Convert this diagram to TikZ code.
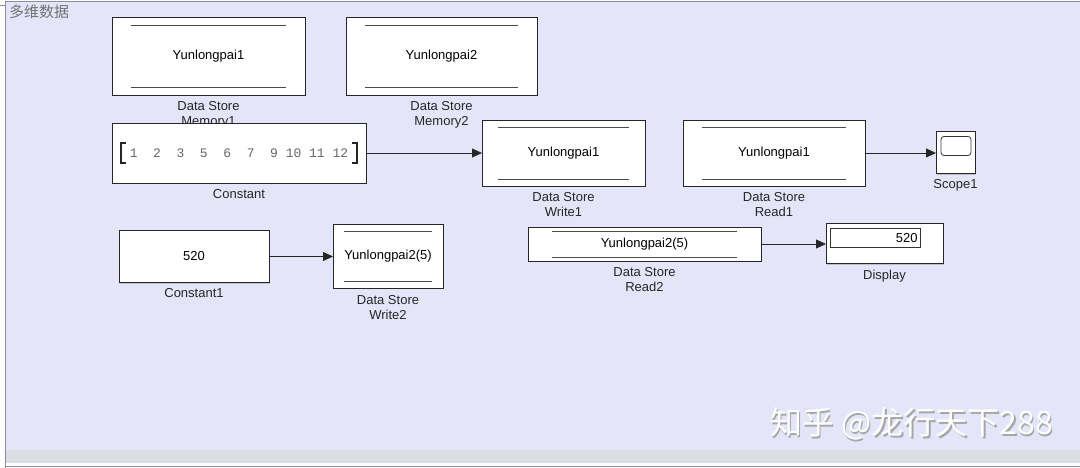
\documentclass[tikz,border=0pt]{standalone}
\usepackage{fontspec}
\setmainfont{Liberation Sans}
\newfontfamily\cjkfont{Noto Sans CJK SC}
\newfontfamily\vecfont{Liberation Mono}
\usetikzlibrary{positioning,arrows.meta,calc,shadows}

\definecolor{canvas}{RGB}{229,229,250}
\definecolor{band}{RGB}{221,221,229}
\definecolor{frame}{RGB}{140,140,158}

\begin{document}
\begin{tikzpicture}[x=1pt, y=-1pt,
    block/.style={draw=black!85, fill=white, line width=0.8pt, inner sep=0pt, outer sep=0pt,
      drop shadow={shadow xshift=1.3pt, shadow yshift=-1.3pt, fill=black!40, opacity=0.5},
      font=\fontsize{13}{15}\selectfont},
    caption/.style={font=\fontsize{13}{15}\selectfont, align=center, inner sep=0pt, text=black!85},
    wire/.style={draw=black!85, line width=0.8pt, -{Triangle[length=10pt,width=9pt]}},
    bar/.style={draw=black!70, line width=0.8pt}]

    % Canvas and frame
    \useasboundingbox (0,0) rectangle (1080,468);
    \fill[white] (0,0) rectangle (1080,468);
    \fill[canvas] (5,2) rectangle (1080,450);
    \fill[band] (5,450) rectangle (1080,463);
    \draw[frame, line width=1pt] (5,468) -- (5,2) -- (1080,2);
    \draw[frame, line width=1pt] (5,466) -- (1080,466);
    \draw[frame, line width=0.6pt] (0,5) -- (5,5);
    \node[anchor=west, inner sep=0pt, text=black!55, font=\cjkfont\fontsize{15}{15}\selectfont] (title) at (9,12) {多维数据};

    % Data store memories
    \node[block, minimum width=193pt, minimum height=78pt] (m1) at (208.5,56) {Yunlongpai1};
    \node[block, minimum width=191pt, minimum height=78pt] (m2) at (441.5,56) {Yunlongpai2};
    \node[caption, below=6pt of m1] (m1lab) {Data Store\\Memory1};
    \node[caption, below=6pt of m2] (m2lab) {Data Store\\Memory2};

    % Constant vector
    \node[block, minimum width=254pt, minimum height=60pt] (c0) at (239,153) {};
    \node[inner sep=0pt, text=black!60, font=\vecfont\fontsize{13}{13}\selectfont] (cvec) at (c0.center) {1~~2~~3~~5~~6~~7~~9~10~11~12};
    \draw[black!85, line width=1.3pt] ($(c0.west)+(14,-10)$) -- ++(-5,0) -- ++(0,20) -- ++(5,0);
    \draw[black!85, line width=1.3pt] ($(c0.east)+(-14,-10)$) -- ++(5,0) -- ++(0,20) -- ++(-5,0);
    \node[caption, below=6pt of c0] (c0lab) {Constant};

    % Write and read blocks
    \node[block, minimum width=163pt, minimum height=66pt] (w1) at (563.5,153) {Yunlongpai1};
    \node[block, minimum width=182pt, minimum height=66pt] (r1) at (774,153) {Yunlongpai1};
    \node[block, minimum width=39pt, minimum height=42pt] (s1) at (955.5,152.5) {};
    \draw[black!80, line width=0.8pt, rounded corners=3pt] ($(s1.north west)+(5,5)$) rectangle ($(s1.north east)+(-4,24)$);
    \node[caption, below=6pt of w1] (w1lab) {Data Store\\Write1};
    \node[caption, below=6pt of r1] (r1lab) {Data Store\\Read1};
    \node[caption, below=6pt of s1] (s1lab) {Scope1};

    \node[block, minimum width=150pt, minimum height=52pt] (k1) at (194,256.5) {520};
    \node[block, minimum width=110pt, minimum height=64pt] (w2) at (388,256) {Yunlongpai2(5)};
    \node[block, minimum width=233pt, minimum height=34pt] (r2) at (644.5,244) {Yunlongpai2(5)};
    \node[block, minimum width=117pt, minimum height=40pt] (disp) at (884.5,243.5) {};
    \node[draw=black!80, fill=white, line width=0.8pt, inner sep=0pt, minimum width=90pt, minimum height=18pt, anchor=north west] (dbox) at ($(disp.north west)+(4,5)$) {};
    \node[anchor=east, inner sep=0pt, font=\fontsize{13}{15}\selectfont] (dval) at ($(dbox.east)+(-3,0)$) {520};
    \node[caption, below=6pt of k1] (k1lab) {Constant1};
    \node[caption, below=7pt of w2] (w2lab) {Data Store\\Write2};
    \node[caption, below=6pt of r2] (r2lab) {Data Store\\Read2};
    \node[caption, below=6pt of disp] (displab) {Display};

    % Bars inside the data store blocks
    \foreach \n/\dx/\dy in {m1/19/8, m2/19/8, w1/16/7, r1/19/7, w2/11/7, r2/24/4} {
        \draw[bar] ($(\n.north west)+(\dx,\dy)$) -- ($(\n.north east)+(-\dx,\dy)$);
        \draw[bar] ($(\n.south west)+(\dx,-\dy)$) -- ($(\n.south east)+(-\dx,-\dy)$);
    }

    % Signal lines
    \draw[wire] (c0.east) -- (c0.east -| w1.west);
    \draw[wire] (r1.east) -- (r1.east -| s1.west);
    \draw[wire] (k1.east) -- (k1.east -| w2.west);
    \draw[wire] (r2.east) -- (r2.east -| disp.west);

    % Watermark
    \node[anchor=west, inner sep=0pt, text=black!35, font=\cjkfont\fontsize{32}{32}\selectfont] (markshadow) at (771.5,425.5) {知乎 @龙行天下288};
    \node[anchor=west, inner sep=0pt, text=white, font=\cjkfont\fontsize{32}{32}\selectfont] (mark) at (770,424) {知乎 @龙行天下288};
\end{tikzpicture}
\end{document}
